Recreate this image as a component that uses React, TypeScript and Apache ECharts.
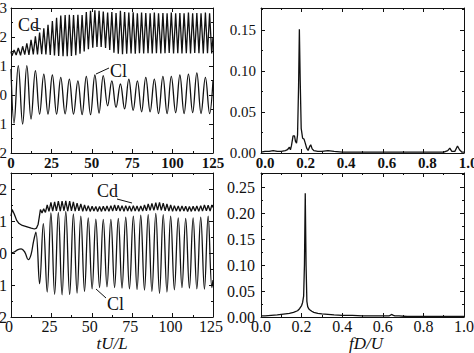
import React, { useEffect, useRef } from 'react';
import * as echarts from 'echarts';

// ---------- data ----------
// Top-left: Cl extremes (times, values), Cd peaks at the same times, Cd troughs in between
const clTopStart = [0, 0.9];
const clTopEnd = [125, 0.5];
const clTopT = [1.9, 4.5, 7.2, 9.8, 12.4, 15.1, 17.7, 20.3, 22.9, 25.6, 28.2, 30.8, 33.5, 36.1, 38.7, 41.4, 44.0, 46.6, 49.2, 51.9, 54.5, 57.1, 59.8, 62.4, 65.0, 67.7, 70.3, 72.9, 75.6, 78.2, 80.8, 83.4, 86.1, 88.7, 91.3, 94.0, 96.6, 99.2, 101.9, 104.5, 107.1, 109.8, 112.4, 115.0, 117.6, 120.3, 122.9];
const clTopV = [-0.97, 1.01, -1.0, 1.01, -0.83, 0.84, -0.66, 0.72, -0.66, 0.69, -0.66, 0.61, -0.65, 0.55, -0.66, 0.49, -0.68, 0.64, -0.68, 0.69, -0.62, 0.67, -0.37, 0.49, -0.43, 0.38, -0.48, 0.55, -0.53, 0.49, -0.58, 0.61, -0.58, 0.55, -0.64, 0.64, -0.64, 0.64, -0.61, 0.69, -0.64, 0.72, -0.61, 0.76, -0.64, 0.61, -0.64];
const cdTopHi = [1.55, 1.62, 1.68, 1.78, 1.9, 2.02, 2.15, 2.3, 2.42, 2.55, 2.66, 2.74, 2.76, 2.77, 2.76, 2.77, 2.76, 2.86, 2.9, 2.92, 2.9, 2.88, 2.84, 2.86, 2.83, 2.9, 2.86, 2.84, 2.85, 2.82, 2.84, 2.83, 2.82, 2.84, 2.82, 2.83, 2.82, 2.84, 2.82, 2.83, 2.82, 2.84, 2.82, 2.83, 2.82, 2.84, 2.82];
const cdTopLoT = [0.6, 3.2, 5.9, 8.5, 11.1, 13.8, 16.4, 19.0, 21.6, 24.3, 26.9, 29.5, 32.2, 34.8, 37.4, 40.1, 42.7, 45.3, 47.9, 50.6, 53.2, 55.8, 58.5, 61.1, 63.7, 66.4, 69.0, 71.6, 74.3, 76.9, 79.5, 82.1, 84.8, 87.4, 90.0, 92.7, 95.3, 97.9, 100.6, 103.2, 105.8, 108.5, 111.1, 113.7, 116.3, 119.0, 121.6, 124.2];
const cdTopLo = [1.35, 1.38, 1.37, 1.39, 1.38, 1.40, 1.40, 1.41, 1.40, 1.38, 1.36, 1.35, 1.34, 1.34, 1.35, 1.37, 1.42, 1.50, 1.58, 1.63, 1.66, 1.66, 1.62, 1.55, 1.46, 1.42, 1.41, 1.42, 1.43, 1.42, 1.44, 1.43, 1.44, 1.43, 1.44, 1.43, 1.44, 1.45, 1.43, 1.44, 1.43, 1.44, 1.43, 1.45, 1.44, 1.43, 1.44, 1.43];
const cdTopStart = [0, 1.5];
const cdTopEnd = [125, 2.0];

// Bottom-left
const clBotPre = [[0, 0], [2, 0.03], [4, 0.1], [6.3, 0.13], [8.6, 0.02], [10.7, -0.21], [12.4, -0.05], [13.9, 0.35]];
const clBotT = [15.4, 17.7, 20.0, 22.4, 24.7, 27.0, 29.3, 31.6, 33.9, 36.3, 38.6, 40.9, 43.2, 45.5, 47.8, 50.2, 52.5, 54.8, 57.1, 59.4, 61.8, 64.1, 66.4, 68.7, 71.0, 73.3, 75.7, 78.0, 80.3, 82.6, 84.9, 87.2, 89.6, 91.9, 94.2, 96.5, 98.8, 101.1, 103.5, 105.8, 108.1, 110.4, 112.7, 115.0, 117.4, 119.7, 122.0, 124.3];
const clBotV = [0.65, -0.96, 0.92, -1.22, 1.25, -1.29, 1.27, -1.31, 1.3, -1.3, 1.22, -1.25, 1.15, -1.2, 1.1, -1.12, 1.06, -1.08, 1.05, -1.06, 1.05, -1.08, 1.08, -1.1, 1.12, -1.12, 1.15, -1.14, 1.18, -1.16, 1.2, -1.2, 1.24, -1.26, 1.2, -1.22, 1.15, -1.15, 1.1, -1.08, 1.08, -1.1, 1.1, -1.12, 1.12, -1.13, 1.15, -1.08];
const clBotEnd = [125, -0.85];
const cdBotPre = [[0, 1.15], [0.7, 1.36], [2, 1.22], [3.5, 1.02], [5, 0.92], [7, 0.86], [10, 0.82], [12.5, 0.78], [14.5, 0.75], [15.8, 0.78], [16.8, 0.9], [17.5, 1.12], [18.2, 1.36], [19.2, 1.25], [20.2, 1.38], [21.3, 1.27]];
const cdBotHi = [1.5, 1.58, 1.6, 1.62, 1.62, 1.63, 1.62, 1.6, 1.56, 1.53, 1.5, 1.48, 1.46, 1.45, 1.45, 1.46, 1.47, 1.48, 1.5, 1.49, 1.48, 1.48, 1.47, 1.48, 1.47, 1.47, 1.5, 1.53, 1.55, 1.57, 1.58, 1.56, 1.53, 1.5, 1.48, 1.47, 1.47, 1.46, 1.45, 1.46, 1.47, 1.48, 1.5, 1.49, 1.5];
const cdBotLoT = [23.5, 25.8, 28.1, 30.5, 32.8, 35.1, 37.4, 39.7, 42.0, 44.4, 46.7, 49.0, 51.3, 53.6, 56.0, 58.3, 60.6, 62.9, 65.2, 67.5, 69.9, 72.2, 74.5, 76.8, 79.1, 81.5, 83.8, 86.1, 88.4, 90.7, 93.0, 95.4, 97.7, 100.0, 102.3, 104.6, 107.0, 109.3, 111.6, 113.9, 116.2, 118.5, 120.9, 123.2];
const cdBotLo = [1.3, 1.31, 1.32, 1.31, 1.32, 1.31, 1.32, 1.31, 1.32, 1.3, 1.31, 1.3, 1.31, 1.3, 1.3, 1.31, 1.3, 1.31, 1.32, 1.31, 1.3, 1.31, 1.3, 1.31, 1.3, 1.31, 1.32, 1.33, 1.33, 1.34, 1.33, 1.32, 1.31, 1.3, 1.31, 1.3, 1.31, 1.3, 1.3, 1.31, 1.3, 1.31, 1.32, 1.31];
const cdBotEnd = [125, 1.42];

// Spectra
const specTopF = [0, 0.02, 0.04, 0.06, 0.08, 0.1, 0.12, 0.13, 0.14, 0.145, 0.15, 0.158, 0.165, 0.17, 0.175, 0.18, 0.185, 0.189, 0.193, 0.198, 0.205, 0.212, 0.218, 0.225, 0.232, 0.24, 0.245, 0.252, 0.26, 0.28, 0.3, 0.33, 0.36, 0.4, 0.5, 0.6, 0.7, 0.8, 0.9, 0.92, 0.93, 0.94, 0.955, 0.968, 0.978, 0.99, 1.0];
const specTopA = [0.001, 0.002, 0.002, 0.003, 0.002, 0.002, 0.003, 0.004, 0.007, 0.004, 0.009, 0.021, 0.021, 0.014, 0.012, 0.022, 0.08, 0.151, 0.09, 0.03, 0.018, 0.017, 0.012, 0.006, 0.003, 0.008, 0.010, 0.005, 0.003, 0.002, 0.002, 0.003, 0.002, 0.001, 0.001, 0.001, 0.001, 0.001, 0.001, 0.003, 0.006, 0.002, 0.002, 0.0085, 0.004, 0.001, 0.001];
const specBotF = [0, 0.02, 0.05, 0.08, 0.1, 0.12, 0.14, 0.16, 0.18, 0.19, 0.2, 0.205, 0.21, 0.214, 0.218, 0.222, 0.226, 0.23, 0.235, 0.24, 0.25, 0.26, 0.28, 0.3, 0.33, 0.36, 0.4, 0.45, 0.5, 0.55, 0.6, 0.63, 0.645, 0.652, 0.66, 0.68, 0.72, 0.8, 0.9, 1.0];
const specBotA = [0.002, 0.002, 0.003, 0.004, 0.005, 0.006, 0.007, 0.009, 0.012, 0.016, 0.022, 0.028, 0.04, 0.1, 0.238, 0.1, 0.03, 0.02, 0.016, 0.014, 0.011, 0.009, 0.007, 0.006, 0.005, 0.004, 0.003, 0.003, 0.002, 0.002, 0.002, 0.002, 0.005, 0.003, 0.002, 0.002, 0.001, 0.001, 0.001, 0.001];

const FONT = 'Liberation Serif';
const INK = '#111';

function zip(t: number[], v: number[]) {
  return t.map((x, i) => [x, v[i]]);
}
function byTime(a: number[][]) {
  return a.slice().sort((p, q) => p[0] - q[0]);
}

function axisPair(g: number, dim: 'x' | 'y', min: number, max: number, interval: number, label: any) {
  const common = {
    type: 'value',
    gridIndex: g,
    min,
    max,
    interval,
    splitLine: { show: false },
    axisLine: { show: true, onZero: false, lineStyle: { color: INK, width: 1 } },
    axisTick: { show: true, inside: true, length: 4, lineStyle: { color: INK, width: 1 } },
    minorTick: { show: true, splitNumber: 2, length: 2, lineStyle: { color: INK, width: 1 } },
  };
  const main = { ...common, position: dim === 'x' ? 'bottom' : 'left', axisLabel: label };
  const other = { ...common, position: dim === 'x' ? 'top' : 'right', axisLabel: { show: false } };
  return [main, other];
}

export default function App() {
  const ref = useRef<HTMLDivElement>(null);
  useEffect(() => {
    if (!ref.current) return;
    const chart = echarts.init(ref.current, undefined, { renderer: 'svg' });

    const gridBase = { containLabel: false, outerBoundsMode: 'none' };
    const grids = [
      { ...gridBase, left: 11, top: 8, width: 202, height: 145 },
      { ...gridBase, left: 261, top: 8, width: 203, height: 145 },
      { ...gridBase, left: 11, top: 173, width: 202, height: 144 },
      { ...gridBase, left: 261, top: 173, width: 203, height: 144 },
    ];

    const lblBoldX = { fontFamily: FONT, fontSize: 15, fontWeight: 'bold', color: INK, margin: 2 };
    const lblY = { fontFamily: FONT, fontSize: 15, color: INK, margin: 4 };
    const lblBotX = { fontFamily: FONT, fontSize: 16, color: INK, margin: 1 };
    const lblBotY = { fontFamily: FONT, fontSize: 16, color: INK, margin: 4 };

    const xAxes = [
      ...axisPair(0, 'x', 0, 125, 25, lblBoldX),
      ...axisPair(1, 'x', 0, 1, 0.2, { ...lblBoldX, padding: [0, 0, 0, 8], formatter: (v: number) => v.toFixed(1) }),
      ...axisPair(2, 'x', 0, 125, 25, { ...lblBotX, padding: [0, 4, 0, 0] }),
      ...axisPair(3, 'x', 0, 1, 0.2, { ...lblBotX, formatter: (v: number) => v.toFixed(1) }),
    ];
    const yAxes = [
      ...axisPair(0, 'y', -2, 3, 1, lblY),
      ...axisPair(1, 'y', 0, 0.177, 0.05, { ...lblY, margin: 5, showMaxLabel: false, formatter: (v: number) => v.toFixed(2) }),
      ...axisPair(2, 'y', -2, 2.5, 1, { ...lblBotY, showMaxLabel: false }),
      ...axisPair(3, 'y', 0, 0.277, 0.05, { ...lblBotY, margin: 6, showMaxLabel: false, formatter: (v: number) => v.toFixed(2) }),
    ];

    const line = (g: number, data: number[][], smooth: number | boolean) => ({
      type: 'line',
      xAxisIndex: 2 * g,
      yAxisIndex: 2 * g,
      data,
      symbol: 'none',
      smooth,
      lineStyle: { color: INK, width: 1.3 },
    });

    const clTop = [clTopStart, ...zip(clTopT, clTopV), clTopEnd];
    const cdTop = byTime([cdTopStart, ...zip(clTopT, cdTopHi), ...zip(cdTopLoT, cdTopLo), cdTopEnd]);
    const clBot = [...clBotPre, ...zip(clBotT, clBotV), clBotEnd];
    const cdBot = byTime([...cdBotPre, ...zip(clBotT.slice(3), cdBotHi), ...zip(cdBotLoT, cdBotLo), cdBotEnd]);

    const txt = (x: number, y: number, s: string, extra: any = {}) => ({
      type: 'text',
      x,
      y,
      style: { text: s, fontFamily: FONT, fontSize: 18, fill: INK, verticalAlign: 'top', ...extra },
    });
    const seg = (x1: number, y1: number, x2: number, y2: number) => ({
      type: 'line',
      shape: { x1, y1, x2, y2 },
      style: { stroke: INK, lineWidth: 1 },
    });

    chart.setOption({
      animation: false,
      backgroundColor: '#fff',
      grid: grids,
      xAxis: xAxes,
      yAxis: yAxes,
      series: [
        line(0, cdTop, false),
        line(0, clTop, 0.4),
        line(1, zip(specTopF, specTopA), false),
        line(2, cdBot, false),
        line(2, clBot, 0.4),
        line(3, zip(specBotF, specBotA), false),
      ],
      graphic: [
        txt(18, 16, 'Cd'),
        seg(33, 27, 41, 29),
        txt(110, 62, 'Cl'),
        seg(96, 74, 109, 68),
        txt(97, 182, 'Cd'),
        seg(117, 199, 132, 203),
        txt(107, 295, 'Cl'),
        seg(96, 289, 106, 298),
        txt(112, 335, 'tU/L', { align: 'center', fontStyle: 'italic', fontSize: 17 }),
        txt(366, 335, 'fD/U', { align: 'center', fontStyle: 'italic', fontSize: 17 }),
      ],
    });
    return () => chart.dispose();
  }, []);
  return <div ref={ref} style={{ position: 'absolute', left: 0, top: 0, width: 474, height: 353 }} />;
}
